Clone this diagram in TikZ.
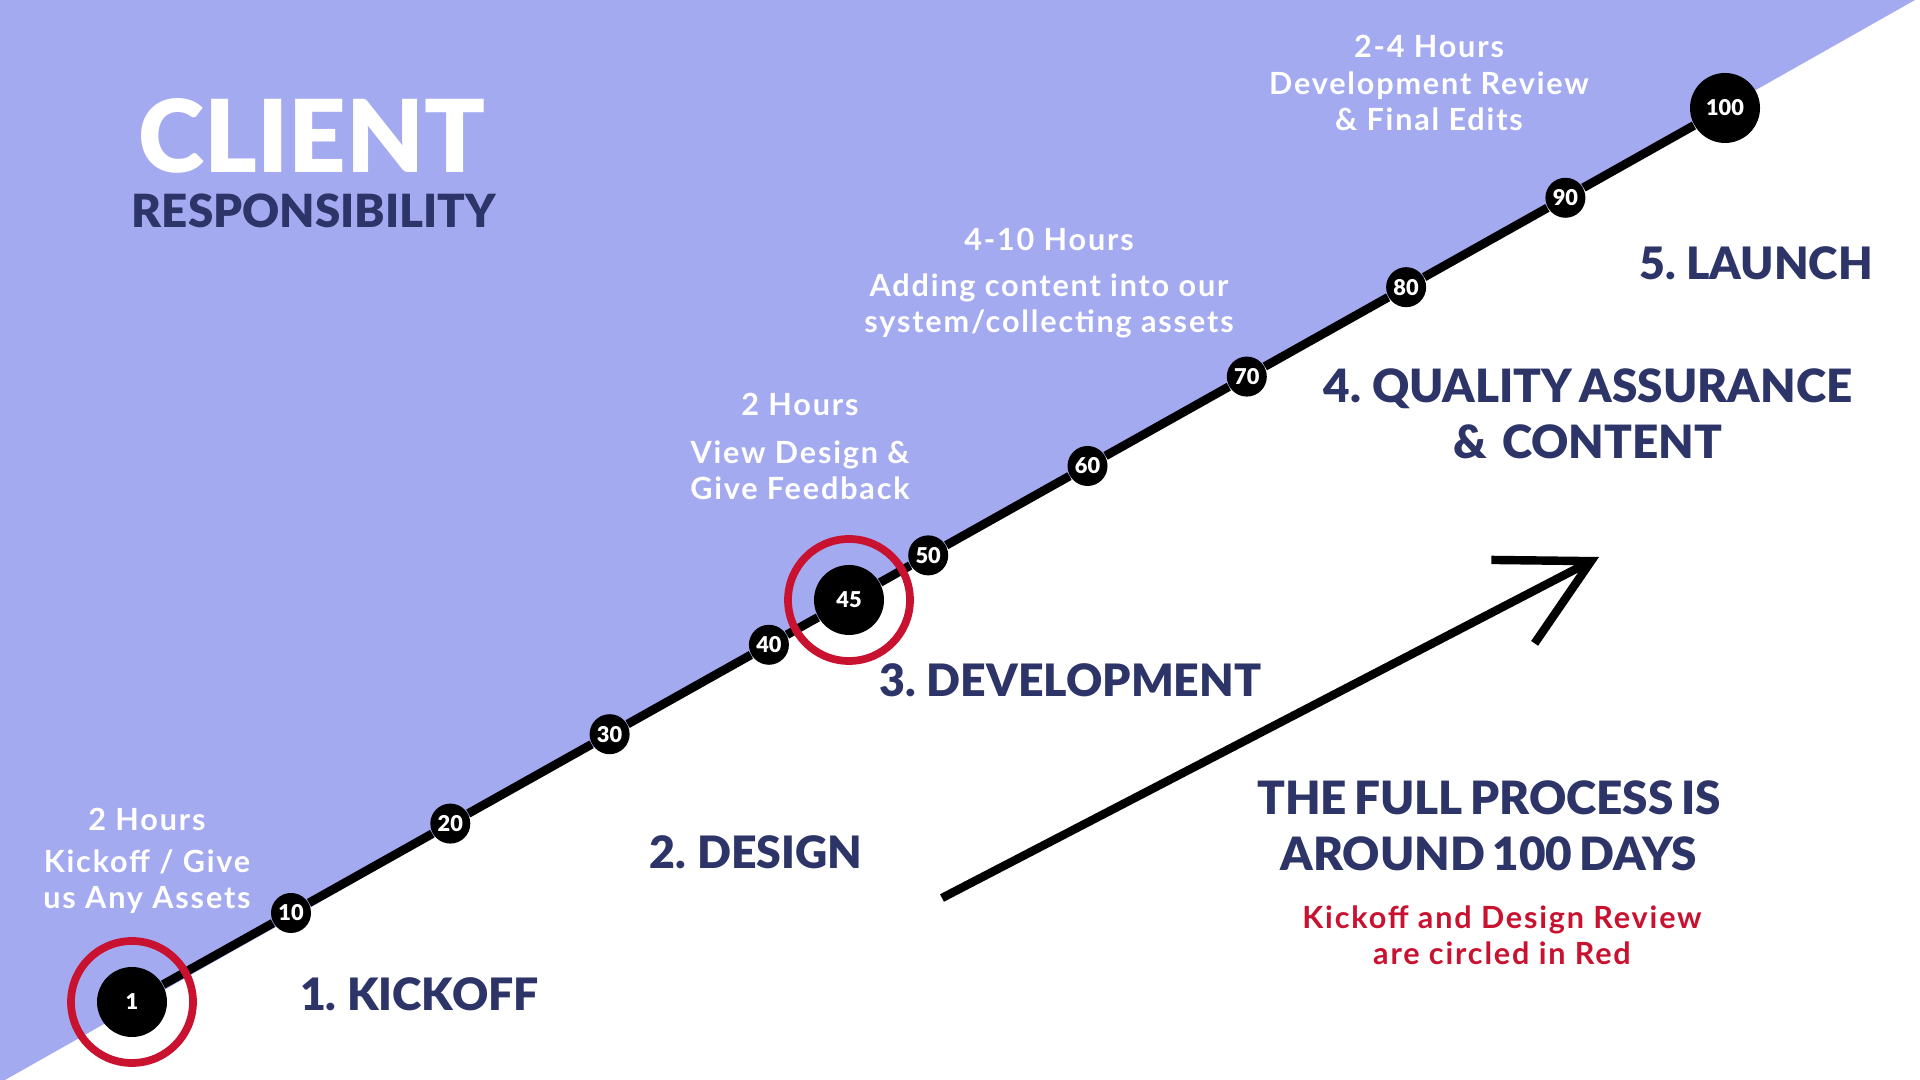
\documentclass[tikz,border=0pt]{standalone}
\usepackage{fontspec}
\setmainfont{Lato}
\newfontfamily\notefont{Lato}[LetterSpace=6]
\newfontfamily\heavyfont{Lato Black}[WordSpace=0.7]
\usetikzlibrary{arrows.meta}
\definecolor{clientbg}{RGB}{164,170,240}
\definecolor{stagenavy}{RGB}{45,52,104}
\definecolor{reviewred}{RGB}{200,18,48}

\begin{document}
\begin{tikzpicture}[
  stage/.style={text=stagenavy, inner sep=0pt, align=center, font=\heavyfont\fontsize{12.7}{15.8}\selectfont},
  widestage/.style={stage, font=\heavyfont\fontsize{13.05}{15.8}\selectfont},
  hours/.style={text=white, inner sep=0pt, align=center, anchor=north, font=\notefont\bfseries\fontsize{8.7}{10.2}\selectfont},
  tick/.style={circle, fill=black, text=white, inner sep=0pt, minimum size=4mm, font=\heavyfont\fontsize{6.2}{6.2}\selectfont},
  bigtick/.style={tick, minimum size=7mm},
  track/.style={line width=2.5pt},
  review/.style={draw=reviewred, line width=2.2pt},
  growth/.style={line width=2.4pt, -{Straight Barb[length=8.8mm,width=9.4mm]}}
]
\useasboundingbox (0,0) rectangle (19.2,10.8);
\fill[white] (0,0) rectangle (19.2,10.8);
\fill[clientbg] (0,0) -- (0.05,0) -- (19.15,10.8) -- (0,10.8) -- cycle;

\node[text=white, inner sep=0pt, font=\heavyfont\fontsize{28.6}{30}\selectfont] (client) at (3.12,9.44) {CLIENT};
\node[text=stagenavy, inner sep=0pt, font=\heavyfont\fontsize{13}{15}\selectfont] (responsibility) at (3.14,8.69) {RESPONSIBILITY};

\node[bigtick] (n1) at (1.32,0.78) {1};
\foreach \v in {10,20,...,90}
  \node[tick] (t\v) at ({2.91+(\v-10)*0.1593},{1.67+(\v-10)*0.0894}) {\v};
\node[bigtick] (n45) at (8.49,4.80) {45};
\node[bigtick] (n100) at (17.25,9.72) {100};
\draw[track] (n1) -- (t10) -- (t20) -- (t30) -- (t40) -- (n45) -- (t50) -- (t60) -- (t70) -- (t80) -- (t90) -- (n100);
\draw[review] (n1) circle (0.61);
\draw[review] (n45) circle (0.61);

\node[hours] (kickoff hours) at (1.47,2.73) {2 Hours\\[2pt] Kickoff / Give\\ us Any Assets};
\node[hours] (design hours) at (8.00,6.88) {2 Hours\\[3.7pt] View Design \&\\ Give Feedback};
\node[hours] (content hours) at (10.49,8.53) {4-10 Hours\\[3.1pt] Adding content into our\\ system/collecting assets};
\node[hours] (review hours) at (14.29,10.46) {2-4 Hours\\[0.5pt] Development Review\\ \& Final Edits};

\node[stage] (kickoff) at (4.195,0.86) {1. KICKOFF};
\node[stage] (design) at (7.56,2.28) {2. DESIGN};
\node[stage] (development) at (10.705,4.00) {3. DEVELOPMENT};
\node[widestage, anchor=north] (quality) at (15.88,7.12) {4. QUALITY ASSURANCE\\ \&\ \ CONTENT};
\node[stage] (launch) at (17.56,8.17) {5. LAUNCH};
\node[widestage, anchor=north] (process) at (14.89,3.00) {THE FULL PROCESS IS\\ AROUND 100 DAYS};
\node[hours, text=reviewred] (circled) at (15.02,1.75) {Kickoff and Design Review\\ are circled in Red};

\coordinate (growth tail) at (9.42,1.82);
\coordinate (growth tip) at (15.99,5.23);
\draw[growth] (growth tail) -- (growth tip);
\end{tikzpicture}
\end{document}
